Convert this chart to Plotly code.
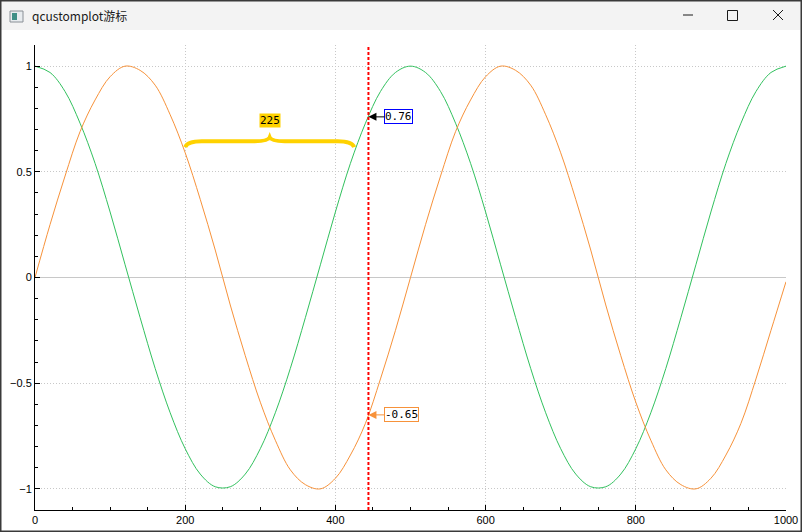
import plotly.graph_objects as go

# ---------------- data ----------------
x_vals = list(range(0, 1001, 20))
green_vals = [1.00, 0.97, 0.88, 0.73, 0.54, 0.31, 0.06, -0.19, -0.43, -0.64,
              -0.81, -0.93, -0.99, -0.99, -0.93, -0.81, -0.64, -0.43, -0.19, 0.06,
              0.31, 0.54, 0.73, 0.88, 0.97, 1.00, 0.97, 0.88, 0.73, 0.54,
              0.31, 0.06, -0.19, -0.43, -0.64, -0.81, -0.93, -0.99, -0.99, -0.93,
              -0.81, -0.64, -0.43, -0.19, 0.06, 0.31, 0.54, 0.73, 0.88, 0.97, 1.00]
orange_vals = [0.00, 0.25, 0.48, 0.69, 0.84, 0.95, 1.00, 0.98, 0.91, 0.77,
               0.59, 0.37, 0.13, -0.13, -0.37, -0.59, -0.77, -0.91, -0.98, -1.00,
               -0.95, -0.84, -0.69, -0.48, -0.25, 0.00, 0.25, 0.48, 0.69, 0.84,
               0.95, 1.00, 0.98, 0.91, 0.77, 0.59, 0.37, 0.13, -0.13, -0.37,
               -0.59, -0.77, -0.91, -0.98, -1.00, -0.95, -0.84, -0.69, -0.48, -0.25, -0.02]
cursor_x = 444
cursor_green = 0.76
cursor_orange = -0.65
cursor_green_label = "0.76"
cursor_orange_label = "-0.65"
bracket_start = 200
bracket_len = 225
bracket_y = 0.645
bracket_label = "225"
window_title = "qcustomplot游标"

GREEN = "#32c15e"
ORANGE = "#f7923a"

W, H = 802, 532
ML, MR, MT, MB = 35, 16, 45, 22
PW, PH = W - ML - MR, H - MT - MB


def px(xp):
    return (xp - ML) / PW


def py(yp):
    return (H - MB - yp) / PH


fig = go.Figure()
fig.add_trace(go.Scatter(x=x_vals, y=green_vals, mode="lines", line=dict(color=GREEN, width=1, shape="spline"),
                         showlegend=False, hoverinfo="skip"))
fig.add_trace(go.Scatter(x=x_vals, y=orange_vals, mode="lines", line=dict(color=ORANGE, width=1, shape="spline"),
                         showlegend=False, hoverinfo="skip"))

shapes = []
# window chrome
shapes.append(dict(type="rect", xref="paper", yref="paper", x0=px(0), x1=px(W), y0=py(0), y1=py(30),
                   fillcolor="#f3f3f3", line=dict(width=0), layer="below"))
shapes.append(dict(type="rect", xref="paper", yref="paper", x0=px(0.5), x1=px(W - 0.5), y0=py(0.5), y1=py(H - 0.5),
                   fillcolor="rgba(0,0,0,0)", line=dict(color="#3a3a3a", width=2)))
# icon
shapes.append(dict(type="rect", xref="paper", yref="paper", x0=px(10), x1=px(23), y0=py(11), y1=py(22),
                   fillcolor="#e8ecef", line=dict(color="#8a9096", width=1)))
shapes.append(dict(type="rect", xref="paper", yref="paper", x0=px(12), x1=px(17), y0=py(13), y1=py(20),
                   fillcolor="#3f8f86", line=dict(width=0)))
# minimize / maximize / close
shapes.append(dict(type="line", xref="paper", yref="paper", x0=px(683), x1=px(693), y0=py(15), y1=py(15),
                   line=dict(color="#1a1a1a", width=1)))
shapes.append(dict(type="rect", xref="paper", yref="paper", x0=px(727.5), x1=px(737.5), y0=py(10.5), y1=py(20.5),
                   line=dict(color="#1a1a1a", width=1), fillcolor="rgba(0,0,0,0)"))
shapes.append(dict(type="line", xref="paper", yref="paper", x0=px(773), x1=px(783), y0=py(10), y1=py(20),
                   line=dict(color="#1a1a1a", width=1)))
shapes.append(dict(type="line", xref="paper", yref="paper", x0=px(773), x1=px(783), y0=py(20), y1=py(10),
                   line=dict(color="#1a1a1a", width=1)))

# cursor line
shapes.append(dict(type="line", xref="x", yref="paper", x0=cursor_x, x1=cursor_x, y0=0, y1=1,
                   line=dict(color="#ff0000", width=2, dash="3px,2px")))

# curly bracket
b0 = bracket_start
b1 = bracket_start + bracket_len
bm = (b0 + b1) / 2
yb = bracket_y
path = (f"M {b0},{yb - 0.028} Q {b0 + 3},{yb} {b0 + 22},{yb} "
        f"L {bm - 20},{yb} Q {bm - 2},{yb} {bm},{yb + 0.018} "
        f"Q {bm + 2},{yb} {bm + 20},{yb} L {b1 - 22},{yb} Q {b1 - 3},{yb} {b1},{yb - 0.028}")
shapes.append(dict(type="path", xref="x", yref="y", path=path, line=dict(color="#ffd200", width=4)))

annotations = [
    dict(xref="paper", yref="paper", x=px(30), y=py(15), text=window_title, showarrow=False,
         xanchor="left", yanchor="middle", font=dict(family="Noto Sans CJK SC", size=12, color="#1a1a1a")),
    dict(x=bm, y=0.744, xref="x", yref="y", text=bracket_label, showarrow=False,
         bgcolor="#ffd200", borderpad=0, font=dict(family="DejaVu Sans Mono", size=11, color="black")),
    dict(x=cursor_x, y=cursor_green, xref="x", yref="y", text=cursor_green_label, showarrow=True,
         ax=30, ay=0, arrowhead=2, arrowsize=1.6, arrowwidth=1, arrowcolor="black",
         bgcolor="white", bordercolor="#0000ff", borderwidth=1, borderpad=0,
         font=dict(family="DejaVu Sans Mono", size=11, color="black")),
    dict(x=cursor_x, y=cursor_orange, xref="x", yref="y", text=cursor_orange_label, showarrow=True,
         ax=33, ay=0, arrowhead=2, arrowsize=1.6, arrowwidth=1, arrowcolor=ORANGE,
         bgcolor="white", bordercolor=ORANGE, borderwidth=1, borderpad=0,
         font=dict(family="DejaVu Sans Mono", size=11, color="black")),
]

fig.update_layout(
    width=W, height=H,
    margin=dict(l=ML, r=MR, t=MT, b=MB, pad=0, autoexpand=False),
    paper_bgcolor="white", plot_bgcolor="white",
    shapes=shapes, annotations=annotations,
    font=dict(family="Liberation Sans", size=11, color="black"),
    xaxis=dict(range=[0, 1000], dtick=200, tick0=0, ticks="inside", ticklen=5, tickcolor="black",
               showline=True, linecolor="black", linewidth=1, mirror=False, automargin=False,
               showgrid=True, gridcolor="#c8c8c8", griddash="1px,2px", gridwidth=1, zeroline=False,
               minor=dict(dtick=50, ticks="inside", ticklen=3, tickcolor="black", showgrid=False),
               tickfont=dict(family="Liberation Sans", size=11), fixedrange=True),
    yaxis=dict(range=[-1.1, 1.1], dtick=0.5, tick0=0, ticks="inside", ticklen=5, tickcolor="black",
               showline=True, linecolor="black", linewidth=1, mirror=False, automargin=False,
               showgrid=True, gridcolor="#c8c8c8", griddash="1px,2px", gridwidth=1,
               zeroline=True, zerolinecolor="#c8c8c8", zerolinewidth=1,
               minor=dict(dtick=0.1, ticks="inside", ticklen=3, tickcolor="black", showgrid=False),
               tickfont=dict(family="Liberation Sans", size=11), fixedrange=True),
)

fig.write_html("out.html", config={"displayModeBar": False},
               post_script="document.body.style.margin='0';document.body.style.overflow='hidden';")
